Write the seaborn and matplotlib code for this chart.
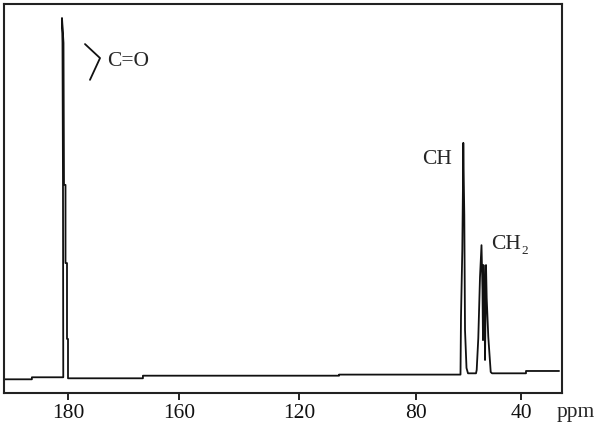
import numpy as np
import pandas as pd
import matplotlib
matplotlib.use('Agg')
import matplotlib.pyplot as plt
import seaborn as sns

# 13C spectrum trace (ppm, relative intensity 0-100)
shift_ppm = [191.35, 186.49, 186.49, 180.85, 180.90, 180.99, 181.08, 180.81, 180.72, 180.45,
             180.45, 180.18, 180.18, 180.00, 180.00, 166.5, 166.5, 106.3, 106.3,
             63.05, 62.86, 62.36, 62.10, 61.98, 61.79, 61.60, 61.33, 60.76, 60.19, 57.14,
             56.88, 56.27, 55.62, 55.05, 54.67, 54.48, 54.29, 53.90, 53.71, 53.33, 53.07,
             52.46, 51.54, 51.05, 38.10, 38.10, 25.52]
intensity = [3.52, 3.52, 4.04, 4.04, 53.5, 90.0, 96.4, 90.0, 53.5, 53.5,
             33.4, 33.4, 13.9, 13.9, 3.78, 3.78, 4.45, 4.45, 4.73,
             4.73, 19.5, 36.8, 54.2, 64.3, 54.2, 45.8, 16.2, 6.43, 5.06, 5.06,
             5.91, 14.1, 29.8, 38.0, 26.5, 13.6, 32.9, 23.9, 8.48, 32.9, 24.4,
             14.4, 5.40, 5.06, 5.06, 5.66, 5.66]

tick_ppm = [180, 160, 120, 80, 40]
tick_labels = ['180', '160', '120', '80', '40']

# the printed axis is not linear: where each ppm value sits along the axis
scale_ppm = [24.4, 40, 80, 120, 160, 180, 191.5]
scale_pos = [-562, -521, -416, -299, -179, -68, -4]

df = pd.DataFrame({'ppm': shift_ppm, 'intensity': intensity})

sns.set_style('ticks')
plt.rcParams['font.family'] = ['Liberation Serif', 'DejaVu Serif']

fig = plt.figure(figsize=(6.03, 4.33), dpi=100)
ax = fig.add_axes([4 / 603, 1 - 393 / 433, 558 / 603, 389 / 433])


def fwd(v):
    return np.interp(v, scale_ppm, scale_pos)


def inv(v):
    return np.interp(v, scale_pos, scale_ppm)


ax.set_xscale('function', functions=(fwd, inv))

sns.lineplot(data=df, x='ppm', y='intensity', sort=False, estimator=None,
             color='#111111', linewidth=1.3, ax=ax)

ax.set_xlim(191.5, 24.4)
ax.set_ylim(0, 100)
ax.set_xticks(tick_ppm)
ax.set_xticklabels(tick_labels)
ax.minorticks_off()
ax.set_yticks([])
ax.set_xlabel('')
ax.set_ylabel('')
ax.tick_params(axis='x', direction='out', length=5, width=1.3, labelsize=15.5,
               pad=3, colors='#111111')
for s in ax.spines.values():
    s.set_visible(True)
    s.set_linewidth(1.5)
    s.set_color('#222222')

# peak labels
ax.plot([176.94, 174.23, 176.04], [89.7, 86.1, 80.5], color='#111111', linewidth=1.3)
ax.text(172.97, 85.3, 'C=O', fontsize=15.5, ha='left', va='center')
ax.text(72.0, 59.9, 'CH', fontsize=15.5, ha='center', va='center')
ax.text(51.5, 38.3, 'CH', fontsize=15.5, ha='left', va='center')
ax.text(39.7, 36.4, '2', fontsize=9.5, ha='left', va='center')
fig.text(576 / 603, 1 - 413 / 433, 'ppm', fontsize=15.5, ha='center', va='center')

fig.savefig('out.png', dpi=100)
